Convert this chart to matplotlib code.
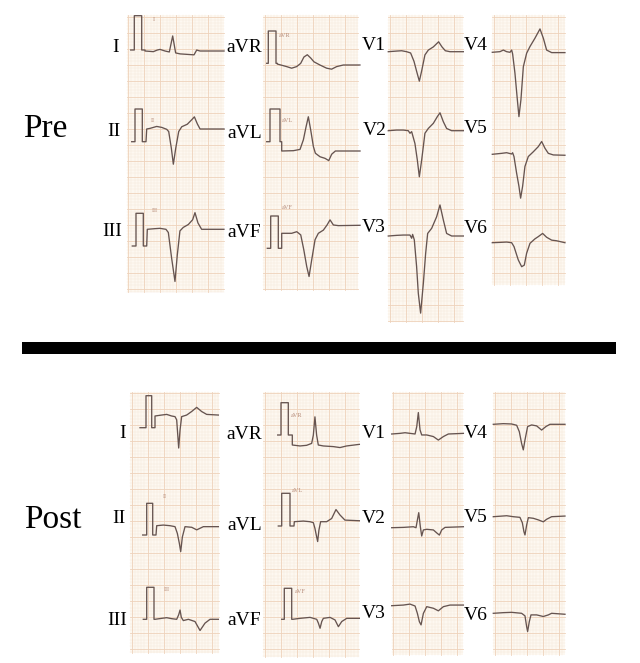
import numpy as np
import matplotlib.pyplot as plt
from matplotlib.patches import Rectangle

PX_MM = 3.2          # pixels per mm of paper (25 mm/s, 10 mm/mV)
MS_PX = PX_MM / 40.0
MV_PX = PX_MM * 10.0

### Pre traces: ms from trace start, mV from baseline ###
pre_i_ms = [0, 104, 154, 188, 250, 304, 346, 383, 438, 613, 646, 688, 988]
pre_i_mv = [0, -0.02, 0.03, 0.05, 0, -0.03, 0.47, -0.06, -0.09, -0.12, 0.03, 0, 0]
pre_ii_ms = [0, 42, 125, 188, 250, 275, 308, 333, 363, 400, 438, 508, 567, 596, 633, 667, 967]
pre_ii_mv = [0, 0.02, 0.08, 0.05, -0.01, -0.08, -0.6, -1.10, -0.6, -0.08, 0.07, 0.15, 0.3, 0.38, 0.16, 0, 0]
pre_iii_ms = [0, 96, 158, 233, 263, 304, 346, 375, 408, 450, 513, 567, 596, 633, 679, 958]
pre_iii_mv = [0, 0.02, 0.03, 0, -0.1, -0.9, -1.63, -0.8, -0.05, 0.06, 0.15, 0.3, 0.52, 0.2, 0, 0]
pre_avr_ms = [0, 117, 179, 242, 292, 333, 375, 417, 458, 533, 617, 679, 742, 825, 1033]
pre_avr_mv = [0.03, -0.05, -0.1, -0.05, 0.05, 0.25, 0.32, 0.22, 0.1, 0, -0.1, -0.13, -0.05, 0, 0]
pre_avl_ms = [0, 146, 229, 271, 304, 333, 363, 396, 421, 479, 542, 588, 625, 671, 979]
pre_avl_mv = [0, 0.01, 0.05, 0.35, 0.75, 1.07, 0.65, 0.14, -0.07, -0.18, -0.23, -0.3, -0.1, 0, 0]
pre_avf_ms = [0, 125, 188, 238, 275, 313, 342, 375, 417, 458, 521, 567, 604, 646, 708, 979]
pre_avf_mv = [0, 0, 0.05, -0.05, -0.5, -1.04, -1.35, -0.83, -0.2, 0, 0.1, 0.26, 0.42, 0.26, 0.24, 0.25]
pre_v1_ms = [0, 104, 167, 229, 279, 321, 358, 388, 417, 458, 500, 563, 629, 671, 713, 771, 938]
pre_v1_mv = [0, 0.02, 0.03, 0, -0.04, -0.3, -0.65, -0.92, -0.6, -0.1, 0.05, 0.15, 0.31, 0.15, 0.03, 0, 0]
pre_v2_ms = [0, 104, 188, 250, 271, 292, 333, 363, 388, 417, 458, 500, 563, 613, 646, 688, 729, 792, 938]
pre_v2_mv = [0, 0.02, 0.02, 0, -0.08, -0.03, -0.4, -0.92, -1.44, -0.92, -0.08, 0.07, 0.23, 0.44, 0.56, 0.28, 0.07, 0, 0]
pre_v3_ms = [0, 104, 188, 271, 292, 304, 325, 354, 375, 404, 438, 467, 492, 542, 604, 646, 688, 729, 792, 938]
pre_v3_mv = [0, 0.02, 0.03, 0.03, -0.07, 0.05, -0.12, -0.96, -1.79, -2.41, -1.48, -0.54, 0.08, 0.24, 0.6, 0.97, 0.5, 0.08, 0, 0]
pre_v4_ms = [0, 96, 138, 179, 221, 242, 254, 283, 313, 333, 358, 388, 429, 471, 533, 596, 638, 679, 742, 908]
pre_v4_mv = [0, 0.02, 0.07, 0.02, 0, 0.07, -0.05, -0.65, -1.48, -2.01, -1.48, -0.45, -0.03, 0.18, 0.44, 0.73, 0.44, 0.07, -0.01, -0.01]
pre_v5_ms = [0, 117, 179, 242, 254, 271, 304, 333, 354, 379, 408, 450, 513, 575, 617, 658, 700, 763, 908]
pre_v5_mv = [0, 0.03, 0.05, 0.01, 0.05, -0.07, -0.59, -1.0, -1.37, -1.0, -0.38, -0.07, 0.08, 0.24, 0.4, 0.19, 0.03, -0.02, -0.03]
pre_v6_ms = [0, 96, 179, 242, 271, 325, 367, 400, 429, 471, 533, 575, 629, 679, 742, 804, 908]
pre_v6_mv = [0, 0.01, 0.02, 0, -0.12, -0.54, -0.75, -0.7, -0.33, -0.02, 0.12, 0.19, 0.29, 0.17, 0.08, 0.06, 0]

### Post traces ###
post_i_ms = [0, 83, 146, 208, 250, 271, 283, 296, 313, 333, 396, 458, 521, 583, 646, 792]
post_i_mv = [0, 0.03, 0.05, 0, -0.02, -0.12, -0.54, -1.0, -0.44, -0.02, 0.03, 0.14, 0.27, 0.14, 0.05, 0.03]
post_ii_ms = [0, 83, 167, 229, 258, 283, 300, 321, 354, 438, 500, 542, 583, 771]
post_ii_mv = [0, 0.02, 0, -0.03, -0.24, -0.55, -0.81, -0.35, -0.03, -0.05, -0.13, -0.08, -0.03, -0.03]
post_iii_ms = [0, 83, 146, 208, 271, 296, 313, 329, 354, 417, 500, 563, 625, 688, 792]
post_iii_mv = [0, 0.03, 0.05, 0.02, 0, 0.14, 0.29, 0.06, -0.04, 0, -0.07, -0.35, -0.12, 0, 0]
post_avr_ms = [0, 96, 179, 242, 263, 283, 304, 325, 388, 513, 596, 679, 838]
post_avr_mv = [0, -0.03, -0.01, 0.05, 0.31, 0.88, 0.31, 0, -0.03, -0.05, -0.08, -0.03, 0.02]
post_avl_ms = [0, 113, 196, 238, 258, 279, 292, 308, 329, 404, 467, 521, 571, 633, 813]
post_avl_mv = [0, 0.02, 0, -0.03, -0.21, -0.47, -0.62, -0.26, 0, 0, 0.1, 0.38, 0.21, 0.05, 0.03]
post_avf_ms = [0, 92, 217, 300, 321, 342, 363, 383, 467, 529, 571, 613, 675, 833]
post_avf_mv = [0, 0.03, 0.06, 0, -0.12, -0.28, -0.07, 0.03, 0.06, -0.02, -0.23, -0.07, 0.03, 0.03]
post_v1_ms = [0, 104, 167, 229, 292, 313, 333, 354, 375, 438, 521, 583, 646, 708, 896]
post_v1_mv = [0, 0.02, 0.04, 0.02, 0, 0.23, 0.67, 0.13, -0.03, -0.03, -0.08, -0.19, -0.08, 0, 0.02]
post_v2_ms = [0, 146, 271, 304, 321, 338, 358, 375, 396, 438, 521, 571, 596, 625, 667, 896]
post_v2_mv = [0, 0.01, 0.03, 0, 0.24, 0.47, 0.03, -0.26, -0.07, -0.05, -0.07, -0.18, -0.23, -0.07, 0.01, 0.03]
post_v3_ms = [0, 146, 229, 292, 321, 346, 367, 396, 438, 521, 583, 646, 729, 896]
post_v3_mv = [0, 0.02, 0.05, -0.01, -0.24, -0.5, -0.6, -0.24, -0.03, -0.08, -0.16, -0.03, 0.02, 0.02]
post_v4_ms = [0, 125, 229, 292, 325, 354, 375, 396, 429, 479, 542, 604, 658, 708, 896]
post_v4_mv = [0, 0.02, 0.01, -0.03, -0.23, -0.6, -0.8, -0.49, -0.07, -0.02, -0.05, -0.18, -0.07, 0, 0]
post_v5_ms = [0, 167, 250, 333, 363, 383, 396, 417, 438, 500, 563, 625, 667, 729, 896]
post_v5_mv = [0, 0.03, 0, -0.02, -0.19, -0.47, -0.57, -0.26, -0.03, -0.05, -0.1, -0.16, -0.08, 0, 0.02]
post_v6_ms = [0, 125, 229, 354, 396, 417, 429, 450, 471, 542, 625, 688, 729, 896]
post_v6_mv = [0, 0.02, 0.03, 0, -0.08, -0.42, -0.57, -0.26, -0.05, -0.05, -0.1, -0.05, 0, -0.03]

### layout (figure pixels) ###
strips = [(126.7, 15, 224, 291.7), (263, 15, 358, 290), (388.3, 15, 463.3, 321.7), (492.3, 15, 565, 285),
          (130, 391.7, 219, 653), (263.3, 391.7, 359.3, 656.7), (391.7, 391.7, 463.3, 655), (493.3, 391.7, 565, 655)]

# label, ms, mv, x start, baseline, label right, label baseline, calibration (tick0, rise, fall, tick1, base, top)
leads = [
    ('I', pre_i_ms, pre_i_mv, 145, 51, 119, 52, (130.7, 134.3, 141.7, 145, 50, 15.7)),
    ('II', pre_ii_ms, pre_ii_mv, 146.7, 129, 121, 136, (131.7, 135, 142.3, 146, 141.7, 109)),
    ('III', pre_iii_ms, pre_iii_mv, 147.3, 229.3, 122, 236, (132.3, 136, 143.3, 146.7, 246, 213.3)),
    ('aVR', pre_avr_ms, pre_avr_mv, 277.3, 65, 262, 51.7, (266.7, 268.3, 276, 277.3, 63.3, 31)),
    ('aVL', pre_avl_ms, pre_avl_mv, 281.7, 151, 262, 138.3, (266.7, 270, 280, 281.7, 141.7, 109)),
    ('aVF', pre_avf_ms, pre_avf_mv, 281.7, 233.3, 261, 236.7, (267.3, 270.7, 278.3, 281.7, 248.3, 216)),
    ('V1', pre_v1_ms, pre_v1_mv, 388.3, 51.7, 386, 50, None),
    ('V2', pre_v2_ms, pre_v2_mv, 388.3, 130.7, 387, 135, None),
    ('V3', pre_v3_ms, pre_v3_mv, 388.3, 236, 386, 231.7, None),
    ('V4', pre_v4_ms, pre_v4_mv, 492.3, 52.3, 488, 50, None),
    ('V5', pre_v5_ms, pre_v5_mv, 492.3, 154.3, 488, 133.3, None),
    ('V6', pre_v6_ms, pre_v6_mv, 492.3, 242.7, 488, 233.3, None),
    ('I', post_i_ms, post_i_mv, 155, 416, 126, 438.3, (140, 146, 151.7, 155, 427.7, 395.7)),
    ('II', post_ii_ms, post_ii_mv, 156.7, 525.7, 126, 522.7, (142.7, 146.7, 152.7, 156, 535, 503.3)),
    ('III', post_iii_ms, post_iii_mv, 155, 619.3, 127, 625, (143.3, 146.7, 154, 155, 619.3, 587.3)),
    ('aVR', post_avr_ms, post_avr_mv, 292.3, 445, 262, 439.3, (277.7, 281, 288.3, 292.3, 435, 402.7)),
    ('aVL', post_avl_ms, post_avl_mv, 294.3, 521.7, 262, 530, (278.3, 281.7, 290, 294, 526, 493.3)),
    ('aVF', post_avf_ms, post_avf_mv, 292.7, 619.3, 261, 625, (281.7, 284.3, 291.7, 292.7, 619.3, 588.3)),
    ('V1', post_v1_ms, post_v1_mv, 391.7, 434, 386, 438.3, None),
    ('V2', post_v2_ms, post_v2_mv, 391.7, 527.7, 386, 523.3, None),
    ('V3', post_v3_ms, post_v3_mv, 391.7, 605.7, 386, 618.3, None),
    ('V4', post_v4_ms, post_v4_mv, 493.3, 424.3, 488, 438.3, None),
    ('V5', post_v5_ms, post_v5_mv, 493.3, 516.7, 488, 521.7, None),
    ('V6', post_v6_ms, post_v6_mv, 493.3, 613.3, 488, 620, None),
]

# small lead marks printed by the machine
marks = [('I', 154, 17), ('II', 153, 118), ('III', 155, 208), ('aVR', 285, 33), ('aVL', 287, 118),
         ('aVF', 287, 205), ('II', 165, 494), ('III', 167, 587), ('aVR', 297, 413), ('aVL', 297, 488),
         ('aVF', 300, 589)]

plt.rcParams['font.family'] = ['Liberation Serif', 'DejaVu Serif']
fig = plt.figure(figsize=(6.4, 6.63), dpi=100)
ax = fig.add_axes([0, 0, 1, 1])
ax.set_xlim(0, 640)
ax.set_ylim(663, 0)
ax.axis('off')

paper = '#fdf8f1'
minor_c = '#f6e8dc'
major_c = '#eed2bb'
trace_c = '#665450'

for (x0, y0, x1, y1) in strips:
    ax.add_patch(Rectangle((x0, y0), x1 - x0, y1 - y0, facecolor=paper, edgecolor='none', zorder=0))
    nx = int((x1 - x0) / PX_MM) + 1
    for k in range(nx):
        xx = x0 + 1.5 + k * PX_MM
        if xx > x1:
            break
        major = (k % 5 == 0)
        ax.plot([xx, xx], [y0, y1], color=major_c if major else minor_c,
                lw=0.6 if major else 0.35, zorder=1 if major else 0.5)
    ny = int((y1 - y0) / PX_MM) + 1
    for k in range(ny):
        yy = y0 + 1.5 + k * PX_MM
        if yy > y1:
            break
        major = (k % 5 == 0)
        ax.plot([x0, x1], [yy, yy], color=major_c if major else minor_c,
                lw=0.6 if major else 0.35, zorder=1 if major else 0.5)

for name, mx, my in marks:
    ax.text(mx, my, name, fontsize=4.5, color='#b58a78', ha='center', va='top', zorder=2)

for name, ms, mv, xs, yb, lx, ly, cal in leads:
    xs_line = list(xs + np.array(ms) * MS_PX)
    ys_line = list(yb - np.array(mv) * MV_PX)
    if cal is not None:
        t0, r, f, t1, cb, top = cal
        xs_line = [t0, r, r, f, f, t1] + xs_line
        ys_line = [cb, cb, top, top, cb, cb] + ys_line
    ax.plot(xs_line, ys_line, color=trace_c, lw=0.95, solid_joinstyle='round', zorder=3)
    ax.text(lx, ly, name, fontsize=14, ha='right', va='baseline', color='black', zorder=4)

ax.text(23, 137, 'Pre', fontsize=24, ha='left', va='baseline', color='black')
ax.text(24, 528, 'Post', fontsize=24, ha='left', va='baseline', color='black')

ax.add_patch(Rectangle((22, 342), 594, 12, facecolor='black', edgecolor='none'))

fig.savefig('out.png', dpi=100)
